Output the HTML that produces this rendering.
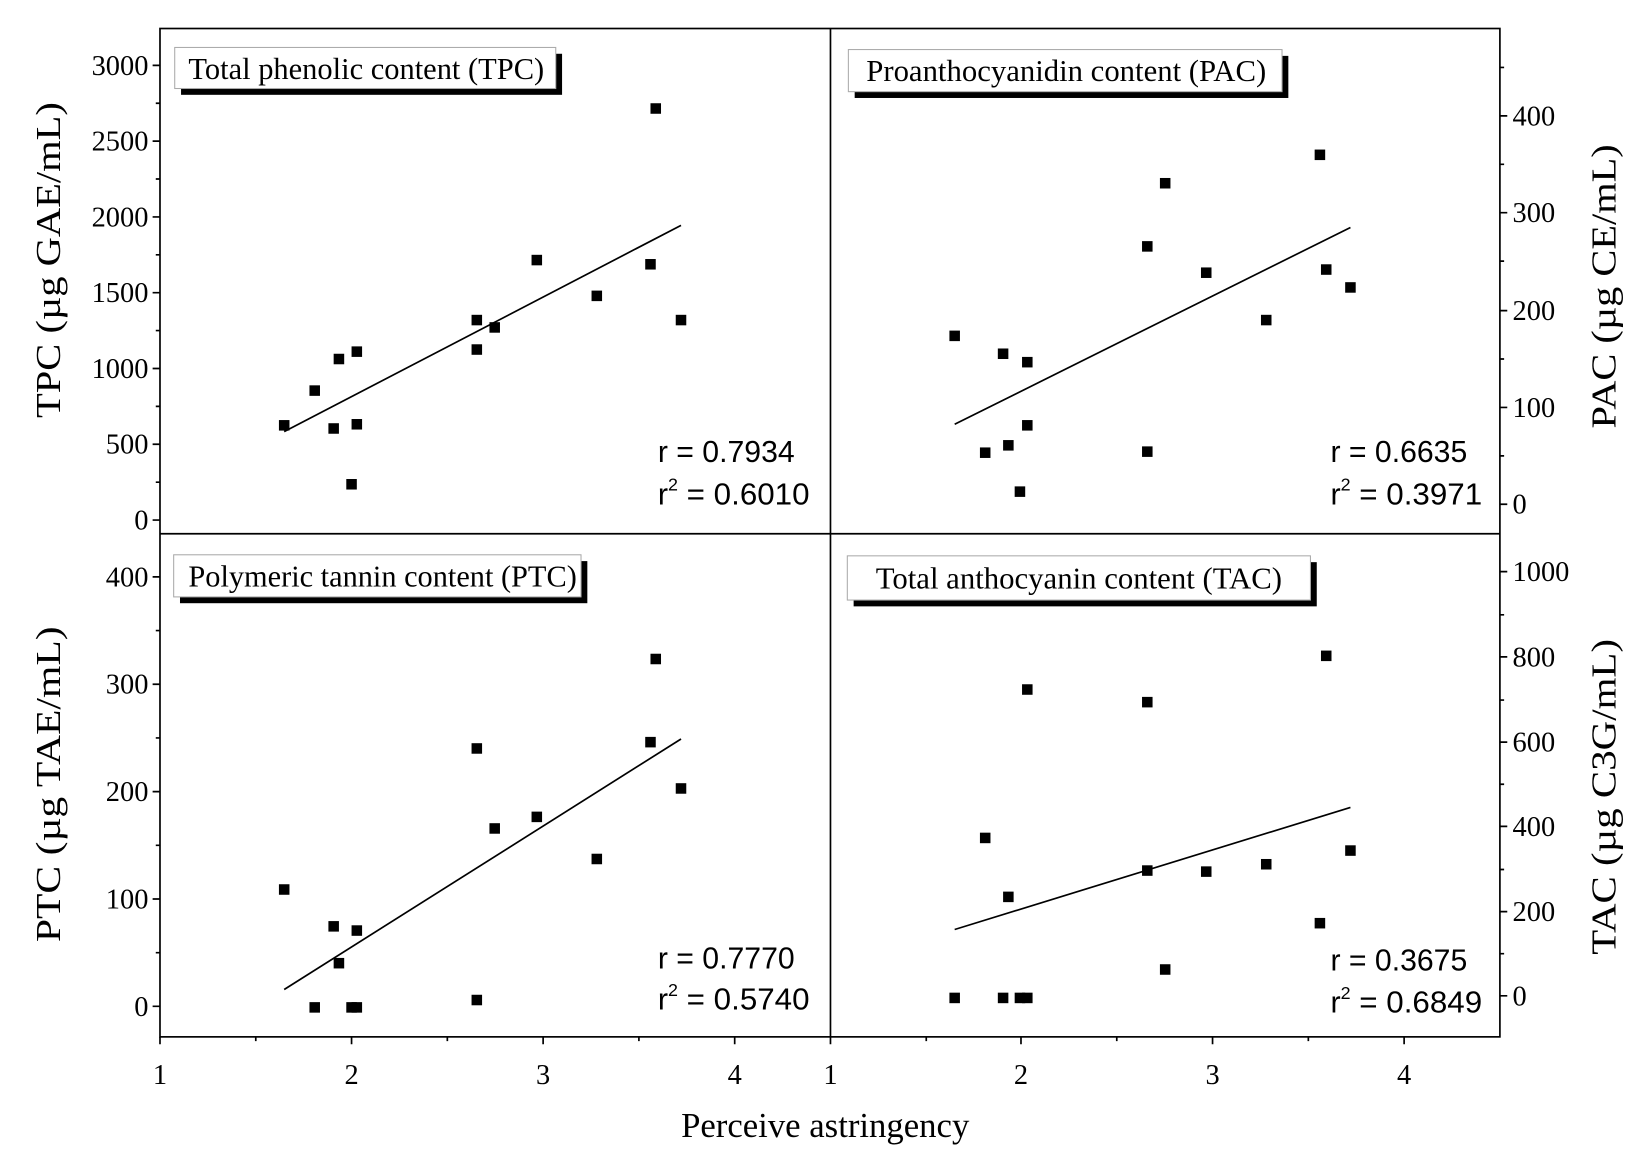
<!DOCTYPE html>
<html><head><meta charset="utf-8"><style>html,body{margin:0;padding:0;background:#fff}svg{display:block}</style></head>
<body>
<svg width="1642" height="1158" viewBox="0 0 1560 1100" xmlns="http://www.w3.org/2000/svg">
<g stroke="#000" stroke-width="1.6" fill="none">
<rect x="152" y="27" width="1273" height="958"/>
<line x1="789" y1="27" x2="789" y2="985"/>
<line x1="152" y1="507" x2="1425" y2="507"/>
<path d="M152 985v7M243 985v4M334 985v7M425 985v4M516 985v7M607 985v4M698 985v7M789 985v7M880 985v4M970 985v7M1061 985v4M1152 985v7M1243 985v4M1334 985v7"/>
<path d="M152 494h-7M152 458h-4M152 422h-7M152 386h-4M152 350h-7M152 314h-4M152 278h-7M152 242h-4M152 206h-7M152 170h-4M152 134h-7M152 98h-4M152 62h-7"/>
<path d="M152 956h-7M152 905h-4M152 854h-7M152 803h-4M152 752h-7M152 701h-4M152 650h-7M152 599h-4M152 548h-7"/>
<path d="M1425 479h7M1425 433h4M1425 387h7M1425 341h4M1425 295h7M1425 248h4M1425 202h7M1425 156h4M1425 110h7M1425 64h4"/>
<path d="M1425 946h7M1425 906h4M1425 866h7M1425 826h4M1425 785h7M1425 745h4M1425 705h7M1425 665h4M1425 624h7M1425 584h4M1425 543h7"/>
<line x1="270" y1="410" x2="647" y2="214"/>
<line x1="907" y1="403" x2="1283" y2="216"/>
<line x1="270" y1="940" x2="647" y2="702"/>
<line x1="907" y1="883" x2="1283" y2="767"/>
</g>
<g fill="#000">
<rect x="172" y="51" width="362" height="39"/>
<rect x="812" y="53" width="412" height="40"/>
<rect x="171" y="533" width="387" height="40"/>
<rect x="811" y="534" width="440" height="42"/>
</g>
<g fill="#fff" stroke="#aaa" stroke-width="1">
<rect x="166" y="45" width="362" height="39"/>
<rect x="806" y="47" width="412" height="40"/>
<rect x="165" y="527" width="387" height="40"/>
<rect x="805" y="528" width="440" height="42"/>
</g>
<g fill="#000" transform="translate(-5,-5)">
<rect x="270" y="404" width="10" height="10"/><rect x="299" y="371" width="10" height="10"/><rect x="317" y="407" width="10" height="10"/><rect x="322" y="341" width="10" height="10"/><rect x="334" y="460" width="10" height="10"/><rect x="339" y="334" width="10" height="10"/><rect x="339" y="403" width="10" height="10"/><rect x="453" y="304" width="10" height="10"/><rect x="453" y="332" width="10" height="10"/><rect x="470" y="311" width="10" height="10"/><rect x="510" y="247" width="10" height="10"/><rect x="567" y="281" width="10" height="10"/><rect x="618" y="251" width="10" height="10"/><rect x="623" y="103" width="10" height="10"/><rect x="647" y="304" width="10" height="10"/>
<rect x="907" y="319" width="10" height="10"/><rect x="936" y="430" width="10" height="10"/><rect x="953" y="336" width="10" height="10"/><rect x="958" y="423" width="10" height="10"/><rect x="969" y="467" width="10" height="10"/><rect x="976" y="344" width="10" height="10"/><rect x="976" y="404" width="10" height="10"/><rect x="1090" y="234" width="10" height="10"/><rect x="1090" y="429" width="10" height="10"/><rect x="1107" y="174" width="10" height="10"/><rect x="1146" y="259" width="10" height="10"/><rect x="1203" y="304" width="10" height="10"/><rect x="1254" y="147" width="10" height="10"/><rect x="1260" y="256" width="10" height="10"/><rect x="1283" y="273" width="10" height="10"/>
<rect x="270" y="845" width="10" height="10"/><rect x="299" y="957" width="10" height="10"/><rect x="317" y="880" width="10" height="10"/><rect x="322" y="915" width="10" height="10"/><rect x="334" y="957" width="10" height="10"/><rect x="339" y="884" width="10" height="10"/><rect x="339" y="957" width="10" height="10"/><rect x="453" y="711" width="10" height="10"/><rect x="453" y="950" width="10" height="10"/><rect x="470" y="787" width="10" height="10"/><rect x="510" y="776" width="10" height="10"/><rect x="567" y="816" width="10" height="10"/><rect x="618" y="705" width="10" height="10"/><rect x="623" y="626" width="10" height="10"/><rect x="647" y="749" width="10" height="10"/>
<rect x="907" y="948" width="10" height="10"/><rect x="936" y="796" width="10" height="10"/><rect x="953" y="948" width="10" height="10"/><rect x="958" y="852" width="10" height="10"/><rect x="969" y="948" width="10" height="10"/><rect x="976" y="655" width="10" height="10"/><rect x="976" y="948" width="10" height="10"/><rect x="1090" y="667" width="10" height="10"/><rect x="1090" y="827" width="10" height="10"/><rect x="1107" y="921" width="10" height="10"/><rect x="1146" y="828" width="10" height="10"/><rect x="1203" y="821" width="10" height="10"/><rect x="1254" y="877" width="10" height="10"/><rect x="1260" y="623" width="10" height="10"/><rect x="1283" y="808" width="10" height="10"/>
</g>
<g font-family="Liberation Serif, serif" fill="#000">
<g font-size="29">
<text x="179" y="75" textLength="338" lengthAdjust="spacingAndGlyphs">Total phenolic content (TPC)</text>
<text x="823" y="77" textLength="380" lengthAdjust="spacingAndGlyphs">Proanthocyanidin content (PAC)</text>
<text x="179" y="557" textLength="369" lengthAdjust="spacingAndGlyphs">Polymeric tannin content (PTC)</text>
<text x="832" y="559" textLength="386" lengthAdjust="spacingAndGlyphs">Total anthocyanin content (TAC)</text>
</g>
<g font-size="27" text-anchor="end">
<text x="141" y="503">0</text><text x="141" y="431">500</text><text x="141" y="359">1000</text><text x="141" y="287">1500</text><text x="141" y="215">2000</text><text x="141" y="143">2500</text><text x="141" y="71">3000</text>
<text x="141" y="965">0</text><text x="141" y="863">100</text><text x="141" y="761">200</text><text x="141" y="659">300</text><text x="141" y="557">400</text>
</g>
<g font-size="27" text-anchor="start">
<text x="1437" y="488">0</text><text x="1437" y="396">100</text><text x="1437" y="304">200</text><text x="1437" y="211">300</text><text x="1437" y="119">400</text>
<text x="1437" y="955">0</text><text x="1437" y="875">200</text><text x="1437" y="794">400</text><text x="1437" y="714">600</text><text x="1437" y="633">800</text><text x="1437" y="552">1000</text>
</g>
<g font-size="27" text-anchor="middle">
<text x="152" y="1030">1</text><text x="334" y="1030">2</text><text x="516" y="1030">3</text><text x="698" y="1030">4</text>
<text x="789" y="1030">1</text><text x="970" y="1030">2</text><text x="1152" y="1030">3</text><text x="1334" y="1030">4</text>
</g>
<g font-size="33" text-anchor="middle">
<text x="784" y="1080">Perceive astringency</text>
<text transform="translate(57,247) rotate(-90)" textLength="300" lengthAdjust="spacingAndGlyphs">TPC (µg GAE/mL)</text>
<text transform="translate(57,745) rotate(-90)" textLength="300" lengthAdjust="spacingAndGlyphs">PTC (µg TAE/mL)</text>
<text transform="translate(1535,272) rotate(-90)" textLength="270" lengthAdjust="spacingAndGlyphs">PAC (µg CE/mL)</text>
<text transform="translate(1535,757) rotate(-90)" textLength="300" lengthAdjust="spacingAndGlyphs">TAC (µg C3G/mL)</text>
</g>
</g>
<g font-family="Liberation Sans, sans-serif" font-size="29" fill="#000">
<text x="625" y="439" textLength="130" lengthAdjust="spacingAndGlyphs">r = 0.7934</text><text x="625" y="479">r<tspan font-size="17" dy="-13">2</tspan><tspan dy="13" textLength="125" lengthAdjust="spacingAndGlyphs"> = 0.6010</tspan></text>
<text x="1264" y="439" textLength="130" lengthAdjust="spacingAndGlyphs">r = 0.6635</text><text x="1264" y="479">r<tspan font-size="17" dy="-13">2</tspan><tspan dy="13" textLength="125" lengthAdjust="spacingAndGlyphs"> = 0.3971</tspan></text>
<text x="625" y="920" textLength="130" lengthAdjust="spacingAndGlyphs">r = 0.7770</text><text x="625" y="959">r<tspan font-size="17" dy="-13">2</tspan><tspan dy="13" textLength="125" lengthAdjust="spacingAndGlyphs"> = 0.5740</tspan></text>
<text x="1264" y="922" textLength="130" lengthAdjust="spacingAndGlyphs">r = 0.3675</text><text x="1264" y="962">r<tspan font-size="17" dy="-13">2</tspan><tspan dy="13" textLength="125" lengthAdjust="spacingAndGlyphs"> = 0.6849</tspan></text>
</g>
</svg>
</body></html>
